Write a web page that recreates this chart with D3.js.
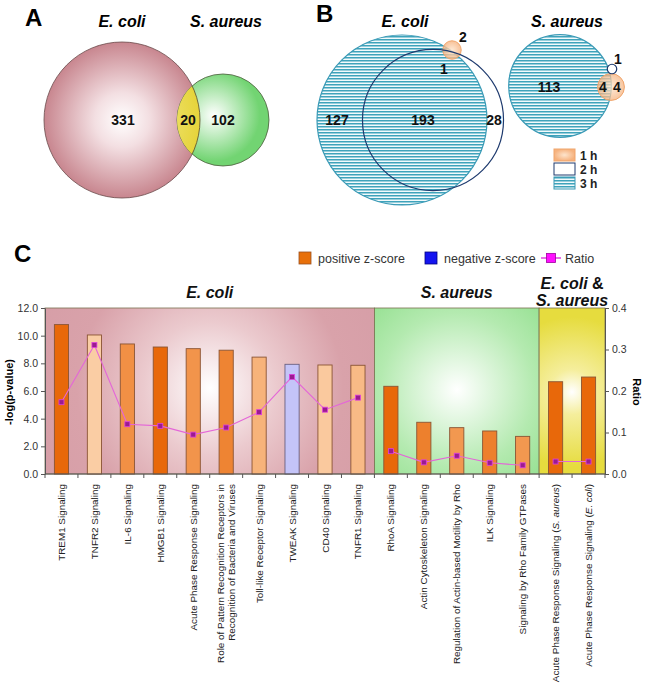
<!DOCTYPE html>
<html><head><meta charset="utf-8">
<script src="https://cdn.jsdelivr.net/npm/d3@7"></script>
<style>body{margin:0;background:#fff}svg{display:block;font-family:"Liberation Sans",Arial,Helvetica,sans-serif}</style>
</head><body><svg id="c" width="645" height="685"></svg>
<script>
// ---------- DATA ----------
const pathways = ["TREM1 Signaling","TNFR2 Signaling","IL-6 Signaling","HMGB1 Signaling","Acute Phase Response Signaling",
  "Role of Pattern Recognition Receptors in|Recognition of Bacteria and Viruses","Toll-like Receptor Signaling","TWEAK Signaling",
  "CD40 Signaling","TNFR1 Signaling","RhoA Signaling","Actin Cytoskeleton Signaling","Regulation of Actin-based Motility by Rho",
  "ILK Signaling","Signaling by Rho Family GTPases","Acute Phase Response Signaling (S. aureus)","Acute Phase Response Signaling (E. coli)"];
const groupNames = ["E. coli","S. aureus","E. coli &|S. aureus"];
const groupSizes = [10,5,2];
const logP = [10.8,10.05,9.4,9.18,9.06,8.95,8.45,7.93,7.88,7.86,6.34,3.74,3.35,3.11,2.72,6.67,7.01];
const ratio = [0.173,0.311,0.120,0.116,0.095,0.112,0.149,0.234,0.155,0.184,0.055,0.028,0.044,0.027,0.021,0.030,0.030];
const zScore = [3.0,0.4,2.0,3.0,1.9,2.3,1.1,null,0.5,0.9,3.0,2.4,1.8,2.4,1.8,3.0,3.0];
const leftTicks = [0,2,4,6,8,10,12];
const rightTicks = [0,0.1,0.2,0.3,0.4];
const vennA = {ecoliOnly:331, both:20, saureusOnly:102};
const vennBEcoli = {only3h:127, h3h2:193, only2h:28, h1h3:1, only1h:2};
const vennBSaureus = {only3h:113, h3h1:4, only1h:4, only2h:1};
const legendB = ["1 h","2 h","3 h"];

// ---------- SETUP ----------
const svg = d3.select("#c");
const defs = svg.append("defs");
function radial(id, stops, attrs={}) {
  const g = defs.append("radialGradient").attr("id", id);
  Object.entries(attrs).forEach(([k,v])=>g.attr(k,v));
  stops.forEach(([o,c])=>g.append("stop").attr("offset",o).attr("stop-color",c));
}
radial("gPink",[[0,"#ffffff"],[0.35,"#f3dfe2"],[1,"#c8868f"]]);
radial("gGreen",[[0,"#ffffff"],[1,"#72d472"]],{cx:"0.4",cy:"0.45",fx:"0.4",fy:"0.45"});
radial("gYellow",[[0,"#f7f0a8"],[1,"#e6d43a"]]);
radial("gOrange",[[0,"#fde4cc"],[1,"#f6b27e"]]);
radial("bgE",[[0,"#ffffff"],[0.35,"#ebcace"],[0.7,"#d9a2aa"],[1,"#d69ea7"]],{gradientUnits:"userSpaceOnUse",cx:210,cy:388,r:190});
radial("bgS",[[0,"#ffffff"],[0.55,"#b4eab0"],[1,"#88dc84"]],{gradientUnits:"userSpaceOnUse",cx:457,cy:390,r:140});
radial("bgY",[[0,"#ffffff"],[0.3,"#f5ee9c"],[1,"#e6dc3e"]],{gradientUnits:"userSpaceOnUse",cx:572,cy:392,r:75});
const hatch = defs.append("pattern").attr("id","hatch").attr("patternUnits","userSpaceOnUse").attr("width",8).attr("height",3);
hatch.append("rect").attr("width",8).attr("height",3).attr("fill","#f2fafc");
hatch.append("rect").attr("y",0).attr("width",8).attr("height",1.5).attr("fill","#3ea3bb");

// ---------- PANEL A ----------
const rA = d3.scaleSqrt().domain([0, vennA.ecoliOnly+vennA.both]).range([0,78]);
const A = svg.append("g");
A.append("text").attr("x",25).attr("y",26).attr("font-size",24).attr("font-weight","bold").text("A");
A.append("text").attr("x",122).attr("y",27).attr("font-size",16).attr("font-weight","bold").attr("font-style","italic").attr("text-anchor","middle").text("E. coli");
A.append("text").attr("x",226).attr("y",27).attr("font-size",16).attr("font-weight","bold").attr("font-style","italic").attr("text-anchor","middle").text("S. aureus");
const cE = {x:122,y:120,r:rA(vennA.ecoliOnly+vennA.both)};
const cS = {x:223,y:120,r:rA(vennA.saureusOnly+vennA.both)};
defs.append("clipPath").attr("id","clipS").append("circle").attr("cx",cS.x).attr("cy",cS.y).attr("r",cS.r);
A.append("circle").attr("cx",cE.x).attr("cy",cE.y).attr("r",cE.r).attr("fill","url(#gPink)").attr("stroke","#6a4a4a").attr("stroke-width",0.8);
A.append("circle").attr("cx",cS.x).attr("cy",cS.y).attr("r",cS.r).attr("fill","url(#gGreen)").attr("stroke","#4a5a3a").attr("stroke-width",0.8);
A.append("circle").attr("cx",cE.x).attr("cy",cE.y).attr("r",cE.r).attr("clip-path","url(#clipS)").attr("fill","url(#gYellow)").attr("stroke","#5a4a2a").attr("stroke-width",0.8);
[[vennA.ecoliOnly,123],[vennA.both,188],[vennA.saureusOnly,223]].forEach(([v,x])=>
  A.append("text").attr("x",x).attr("y",125).attr("font-size",14).attr("font-weight","bold").attr("text-anchor","middle").attr("fill","#111").text(v));

// ---------- PANEL B ----------
const rB = d3.scaleSqrt().domain([0, vennBEcoli.only3h+vennBEcoli.h3h2+vennBEcoli.h1h3]).range([0,85]);
const B = svg.append("g");
B.append("text").attr("x",316).attr("y",22).attr("font-size",24).attr("font-weight","bold").text("B");
B.append("text").attr("x",405).attr("y",27).attr("font-size",16).attr("font-weight","bold").attr("font-style","italic").attr("text-anchor","middle").text("E. coli");
B.append("text").attr("x",567).attr("y",27).attr("font-size",16).attr("font-weight","bold").attr("font-style","italic").attr("text-anchor","middle").text("S. aureus");
const e3 = {x:402,y:120,r:rB(vennBEcoli.only3h+vennBEcoli.h3h2+vennBEcoli.h1h3)};
const e2 = {x:433,y:120,r:rB(vennBEcoli.h3h2+vennBEcoli.only2h)};
const e1 = {x:452,y:50,r:rB(vennBEcoli.h1h3+vennBEcoli.only1h)+1};
const s3 = {x:560,y:86,r:rB(vennBSaureus.only3h+vennBSaureus.h3h1)};
const s1 = {x:611,y:87,r:rB(vennBSaureus.h3h1+vennBSaureus.only1h)};
const s2 = {x:612,y:69,r:rB(vennBSaureus.only2h)};
function circ(c, fill, stroke, sw, op=1){
  return B.append("circle").attr("cx",c.x).attr("cy",c.y).attr("r",c.r).attr("fill",fill).attr("stroke",stroke).attr("stroke-width",sw).attr("fill-opacity",op);
}
circ(e3,"url(#hatch)","#3a9ab6",1.2);
circ(e1,"url(#gOrange)","#f0a56c",1,0.8);
circ(e2,"none","#1e3a6e",1.2);
circ(s3,"url(#hatch)","#3a9ab6",1.2);
circ(s1,"url(#gOrange)","#f0a56c",1,0.75);
circ(s2,"#ffffff","#1e3a6e",1.2);
const bLab = [[vennBEcoli.only1h,463,42],[vennBEcoli.h1h3,444,74],[vennBEcoli.only3h,337,125],[vennBEcoli.h3h2,423,125],[vennBEcoli.only2h,494,125],
  [vennBSaureus.only2h,618,64],[vennBSaureus.only3h,549,92],[vennBSaureus.h3h1,603,92],[vennBSaureus.only1h,617,92]];
bLab.forEach(([v,x,y])=>B.append("text").attr("x",x).attr("y",y).attr("font-size",14).attr("font-weight","bold").attr("text-anchor","middle").attr("fill","#111").text(v));
const lgB = [["url(#gOrange)","#f0a56c"],["#ffffff","#1e3a6e"],["url(#hatch)","#3a9ab6"]];
legendB.forEach((t,i)=>{
  const y = 149 + i*14;
  B.append("rect").attr("x",554).attr("y",y).attr("width",21).attr("height",12).attr("fill",lgB[i][0]).attr("stroke",lgB[i][1]).attr("stroke-width",1);
  B.append("text").attr("x",580).attr("y",y+10.5).attr("font-size",12).attr("font-weight","bold").attr("fill","#222").text(t);
});

// ---------- PANEL C ----------
const m = {l:45, r:605, t:308, b:474};
const x = d3.scaleBand().domain(d3.range(pathways.length)).range([m.l,m.r]).paddingInner(0).paddingOuter(0);
const y = d3.scaleLinear().domain([0,12]).range([m.b,m.t]);
const y2 = d3.scaleLinear().domain([0,0.4]).range([m.b,m.t]);
const C = svg.append("g");
C.append("text").attr("x",14).attr("y",262).attr("font-size",24).attr("font-weight","bold").text("C");

const bgFills = ["url(#bgE)","url(#bgS)","url(#bgY)"];
let start = 0;
groupNames.forEach((gname,gi)=>{
  const x0 = x(start), x1 = x(start+groupSizes[gi]-1)+x.bandwidth();
  C.append("rect").attr("x",x0).attr("y",m.t).attr("width",x1-x0).attr("height",m.b-m.t)
    .attr("fill",bgFills[gi]).attr("stroke","#7a7050").attr("stroke-width",0.8);
  const lines = gname.split("|");
  lines.forEach((ln,li)=>{
    const yy = lines.length===1 ? 298 : 289 + li*17;
    const t = C.append("text").attr("x",(x0+x1)/2).attr("y",yy).attr("font-size",16).attr("font-weight","bold").attr("text-anchor","middle").attr("fill","#111");
    ln.split(/(E\. coli|S\. aureus)/).filter(s=>s.length).forEach(p=>{
      t.append("tspan").attr("font-style",/^(E\. coli|S\. aureus)$/.test(p)?"italic":"normal").text(p);
    });
  });
  start += groupSizes[gi];
});

const zColor = d3.scaleLinear().domain([0,1.5,3]).range(["#fcdcbc","#f5a462","#e8680a"]).clamp(true);
const bw = x.bandwidth()*0.43;
C.selectAll(".bar").data(logP).join("rect")
  .attr("x",(d,i)=>x(i)+(x.bandwidth()-bw)/2).attr("y",d=>y(d)).attr("width",bw).attr("height",d=>y(0)-y(d))
  .attr("fill",(d,i)=>zScore[i]===null?"#c4c4f8":zColor(zScore[i]))
  .attr("stroke",(d,i)=>zScore[i]===null?"#6a6080":"#8a5434").attr("stroke-width",0.9);

start = 0;
groupSizes.forEach(n=>{
  const idx = d3.range(start,start+n);
  C.append("path").datum(idx).attr("fill","none").attr("stroke","#e466d8").attr("stroke-width",1.1)
    .attr("d",d3.line().x(i=>x(i)+x.bandwidth()/2).y(i=>y2(ratio[i])));
  start += n;
});
C.selectAll(".pt").data(ratio).join("rect")
  .attr("x",(d,i)=>x(i)+x.bandwidth()/2-2.5).attr("y",d=>y2(d)-2.5).attr("width",5).attr("height",5)
  .attr("fill","#9a1c90").attr("stroke","#e040e0").attr("stroke-width",0.8);

const axL = C.append("g").attr("transform",`translate(${m.l},0)`).call(d3.axisLeft(y).tickValues(leftTicks).tickFormat(d3.format(".1f")).tickSize(4).tickSizeOuter(0));
const axR = C.append("g").attr("transform",`translate(${m.r},0)`).call(d3.axisRight(y2).tickValues(rightTicks).tickFormat(d3.format(".1f")).tickSize(4).tickSizeOuter(0));
const bTicks = d3.range(pathways.length+1).map(i=> i<pathways.length ? x(i) : m.r);
const axB = C.append("g").attr("transform",`translate(0,${m.b})`);
axB.append("line").attr("x1",m.l).attr("x2",m.r).attr("stroke","#555");
axB.selectAll("line.t").data(bTicks).join("line").attr("class","t").attr("x1",d=>d).attr("x2",d=>d).attr("y1",0).attr("y2",4).attr("stroke","#555");
[axL,axR].forEach(a=>{
  a.selectAll("path,line").attr("stroke","#555");
  a.selectAll("text").attr("font-size",10.5).attr("fill","#333").attr("font-family","Liberation Sans, Arial, sans-serif");
});
C.append("text").attr("transform","translate(13,392) rotate(-90)").attr("text-anchor","middle").attr("font-size",11).attr("font-weight","bold").text("-log(p-value)");
C.append("text").attr("transform","translate(633,392) rotate(90)").attr("text-anchor","middle").attr("font-size",11).attr("font-weight","bold").text("Ratio");

C.selectAll(".xl").data(pathways).join("text")
  .attr("transform",(d,i)=>`translate(${x(i)+x.bandwidth()/2},484) rotate(-90)`)
  .attr("text-anchor","end").attr("font-size",9.9).attr("fill","#222")
  .each(function(d){
    const t = d3.select(this);
    const lines = d.split("|");
    lines.forEach((ln,li)=>{
      const off = (li-(lines.length-1)/2)*10.5 + 3.5;
      ln.split(/(E\. coli|S\. aureus)/).filter(s=>s.length).forEach((p,pi)=>{
        const ts = t.append("tspan").text(p);
        if (pi===0) ts.attr("x",0).attr("y",off);
        if (/^(E\. coli|S\. aureus)$/.test(p)) ts.attr("font-style","italic");
      });
    });
  });

const lg = C.append("g");
lg.append("rect").attr("x",299).attr("y",252).attr("width",12).attr("height",12).attr("fill","#e8700a").attr("stroke","#9a5020").attr("stroke-width",0.8);
lg.append("text").attr("x",318).attr("y",262.5).attr("font-size",12.5).attr("fill","#333").text("positive z-score");
lg.append("rect").attr("x",425).attr("y",252).attr("width",12).attr("height",12).attr("fill","#1414f0").attr("stroke","#000080").attr("stroke-width",0.8);
lg.append("text").attr("x",444).attr("y",262.5).attr("font-size",12.5).attr("fill","#333").text("negative z-score");
lg.append("line").attr("x1",541).attr("x2",561).attr("y1",258).attr("y2",258).attr("stroke","#e040e0").attr("stroke-width",1.5);
lg.append("rect").attr("x",546.5).attr("y",253.5).attr("width",9).attr("height",9).attr("fill","#ff10ff").attr("stroke","#a000a0").attr("stroke-width",0.8);
lg.append("text").attr("x",565).attr("y",262.5).attr("font-size",12.5).attr("fill","#333").text("Ratio");
</script></body></html>
